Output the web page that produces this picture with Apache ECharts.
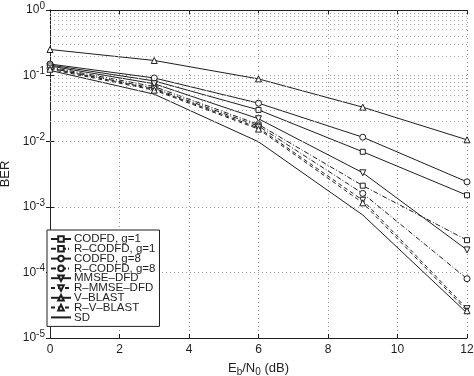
<!DOCTYPE html>
<html><head><meta charset="utf-8">
<script src="https://cdn.jsdelivr.net/npm/echarts@6/dist/echarts.min.js"></script>
<style>html,body{margin:0;padding:0;background:#fff}#c{width:474px;height:376px}</style>
</head><body><div id="c"></div>
<script>
const snr = [0, 3, 6, 9, 12];
const xTicks = [0, 2, 4, 6, 8, 10, 12];
const codfd1  = [0.145, 0.083, 0.030, 0.0069, 0.0015];
const rcodfd1 = [0.135, 0.068, 0.018, 0.0021, 0.00031];
const codfd8  = [0.150, 0.092, 0.038, 0.0115, 0.0024];
const rcodfd8 = [0.130, 0.064, 0.017, 0.0016, 0.00008];
const mmse    = [0.140, 0.075, 0.022, 0.0033, 0.00022];
const rmmse   = [0.130, 0.062, 0.016, 0.00126, 0.000028];
const vblast  = [0.250, 0.170, 0.089, 0.033, 0.0105];
const rvblast = [0.125, 0.060, 0.0153, 0.00115, 0.000026];
const sd      = [0.120, 0.052, 0.0098, 0.00075, 0.000024];
const names = ['CODFD, g=1','R\u2013CODFD, g=1','CODFD, g=8','R\u2013CODFD, g=8','MMSE\u2013DFD','R\u2013MMSE\u2013DFD','V\u2013BLAST','R\u2013V\u2013BLAST','SD'];
const yTickLabels = ['10^0', '10^-1', '10^-2', '10^-3', '10^-4', '10^-5'];

const C = '#1e1e1e';
const minor = [];
for (let k = -5; k <= -1; k++) for (let m = 2; m <= 9; m++) minor.push(m * Math.pow(10, k));

function mk(name, data, sym, rot, dash) {
  return {
    name, type: 'line', data: data.map((v, i) => [snr[i], v]),
    symbol: sym, symbolSize: sym === 'rect' ? 5 : 6, symbolRotate: rot,
    itemStyle: { color: '#fff', borderColor: C, borderWidth: 1 },
    lineStyle: { color: C, width: 1, type: dash },
    emphasis: { disabled: true }, animation: false
  };
}
const series = [
  mk(names[0], codfd1, 'rect', 0, 'solid'),
  mk(names[1], rcodfd1, 'rect', 0, [5, 2, 1, 2]),
  mk(names[2], codfd8, 'circle', 0, 'solid'),
  mk(names[3], rcodfd8, 'circle', 0, [5, 2, 1, 2]),
  mk(names[4], mmse, 'triangle', 180, 'solid'),
  mk(names[5], rmmse, 'triangle', 180, [4, 3]),
  mk(names[6], vblast, 'triangle', 0, 'solid'),
  mk(names[7], rvblast, 'triangle', 0, [4, 3]),
  mk(names[8], sd, 'none', 0, 'solid')
];
series.push({
  type: 'line', data: [], silent: true, animation: false,
  markLine: { symbol: 'none', silent: true, label: { show: false },
    lineStyle: { color: '#aaa', type: [1, 3], width: 1 },
    data: minor.map(v => ({ yAxis: v })) }
});

const legendData = names.map((n, i) => i === 8
  ? { name: n, itemStyle: { color: 'rgba(0,0,0,0)', borderColor: 'rgba(0,0,0,0)', borderWidth: 0 } }
  : { name: n });

const chart = echarts.init(document.getElementById('c'));
chart.setOption({
  backgroundColor: '#fff',
  animation: false,
  grid: { left: 50, right: 7, top: 10, bottom: 38, outerBoundsMode: 'none', containLabel: false },
  legend: {
    data: legendData, orient: 'vertical', left: 47, top: 230,
    itemWidth: 20, itemHeight: 7, itemGap: -2.2,
    backgroundColor: '#fff', borderColor: C, borderWidth: 1,
    padding: [3, 4, 3, 3],
    textStyle: { fontFamily: 'Liberation Sans, Arial', fontSize: 11.5, color: C, padding: [0, 0, 0, -2] }
  },
  xAxis: [{
    type: 'value', min: 0, max: 12, interval: 2,
    axisLine: { lineStyle: { color: C } },
    axisTick: { inside: true, length: 4, lineStyle: { color: C } },
    axisLabel: { color: C, fontSize: 12, fontFamily: 'Liberation Sans, Arial', margin: 6,
      formatter: v => xTicks.includes(v) ? String(v) : '' },
    splitLine: { show: true, lineStyle: { color: '#999', type: [1, 3] } },
    name: '{a|E}{s|b}{a|/N}{s|0}{a| (dB)}', nameLocation: 'middle', nameGap: 21,
    nameTextStyle: { rich: {
      a: { fontSize: 13, color: C, fontFamily: 'Liberation Sans, Arial' },
      s: { fontSize: 10, color: C, fontFamily: 'Liberation Sans, Arial', padding: [8, 0, 0, 0] } } }
  }, {
    type: 'value', min: 0, max: 12, interval: 2, position: 'top',
    axisLine: { show: true, lineStyle: { color: C } },
    axisTick: { inside: true, length: 4, lineStyle: { color: C } },
    axisLabel: { show: false }, splitLine: { show: false }
  }],
  yAxis: [{
    type: 'log', logBase: 10, min: 1e-5, max: 1,
    axisLine: { show: true, lineStyle: { color: C } },
    axisTick: { inside: true, length: 4, lineStyle: { color: C } },
    axisLabel: { margin: 5, color: C, align: 'right',
      formatter: v => {
        const e = Math.round(Math.log10(v));
        const t = yTickLabels[-e];
        if (!t) return '';
        const p = t.split('^');
        return '{b|' + p[0] + '}{s|' + p[1] + '}';
      },
      rich: {
        b: { fontSize: 12, color: C, fontFamily: 'Liberation Sans, Arial' },
        s: { fontSize: 10, color: C, fontFamily: 'Liberation Sans, Arial', padding: [0, 0, 8, 0] } } },
    splitLine: { show: true, lineStyle: { color: '#999', type: [1, 3] } },
    name: 'BER', nameLocation: 'middle', nameGap: 30,
    nameTextStyle: { fontSize: 13, color: C, fontFamily: 'Liberation Sans, Arial' }
  }, {
    type: 'log', logBase: 10, min: 1e-5, max: 1, position: 'right',
    axisLine: { show: true, lineStyle: { color: C } },
    axisTick: { inside: true, length: 4, lineStyle: { color: C } },
    axisLabel: { show: false }, splitLine: { show: false }
  }],
  series
});
</script></body></html>
